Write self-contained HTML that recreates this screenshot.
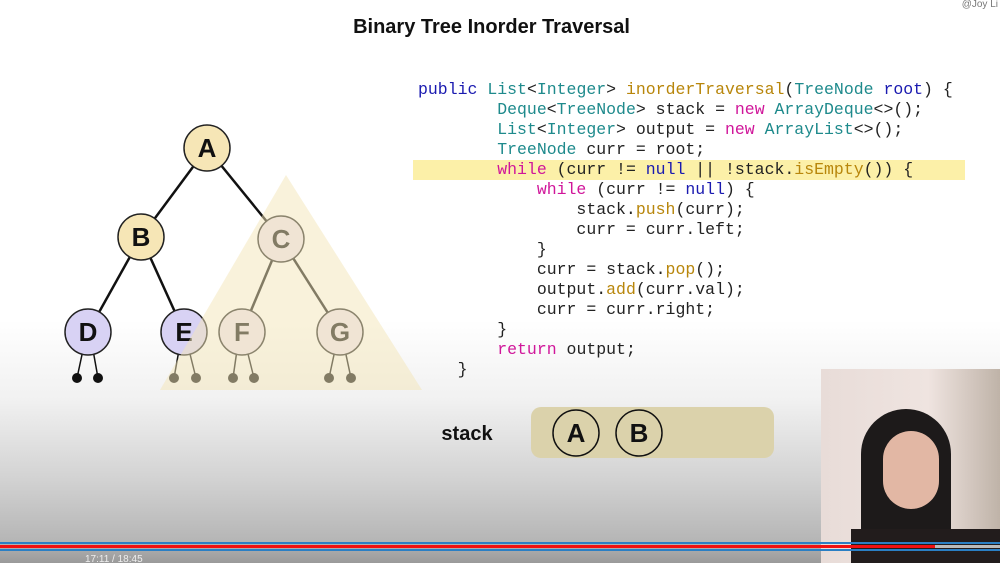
<!DOCTYPE html>
<html><head><style>
body{margin:0;width:1000px;height:563px;overflow:hidden;position:relative;font-family:"Liberation Sans",sans-serif;
background:linear-gradient(180deg,#fff 0px,#fff 320px,#f1f1f1 400px,#d2d2d2 480px,#b6b6b6 540px,#9a9a9a 563px);}
.code{position:absolute;left:418px;top:80px;font-family:"Liberation Mono",monospace;font-size:16.5px;line-height:20px;white-space:pre;color:#222}
.k{color:#1a1ab0}.t{color:#1e8a8c}.m{color:#b8860b}.p{color:#d0169a}
</style></head><body>
<div style="position:absolute;left:0;width:983px;top:16px;text-align:center;font-weight:bold;font-size:20px;color:#111">Binary Tree Inorder Traversal</div>
<div style="position:absolute;right:2px;top:-1px;font-size:10px;color:#777">@Joy Li</div>
<div style="position:absolute;left:413px;top:160px;width:552px;height:20px;background:#fcf0a8"></div>
<div class="code"><span class="k">public</span> <span class="t">List</span>&lt;<span class="t">Integer</span>&gt; <span class="m">inorderTraversal</span>(<span class="t">TreeNode</span> <span class="k">root</span>) {
        <span class="t">Deque</span>&lt;<span class="t">TreeNode</span>&gt; stack = <span class="p">new</span> <span class="t">ArrayDeque</span>&lt;&gt;();
        <span class="t">List</span>&lt;<span class="t">Integer</span>&gt; output = <span class="p">new</span> <span class="t">ArrayList</span>&lt;&gt;();
        <span class="t">TreeNode</span> curr = root;
        <span class="p">while</span> (curr != <span class="k">null</span> || !stack.<span class="m">isEmpty</span>()) {
            <span class="p">while</span> (curr != <span class="k">null</span>) {
                stack.<span class="m">push</span>(curr);
                curr = curr.left;
            }
            curr = stack.<span class="m">pop</span>();
            output.<span class="m">add</span>(curr.val);
            curr = curr.right;
        }
        <span class="p">return</span> output;
    }</div>
<svg width="1000" height="563" style="position:absolute;left:0;top:0">
<g stroke="#111" stroke-width="2.5">
<line x1="207" y1="148" x2="141" y2="237"/><line x1="207" y1="148" x2="281" y2="239"/>
<line x1="141" y1="237" x2="88" y2="332"/><line x1="141" y1="237" x2="184" y2="332"/>
<line x1="281" y1="239" x2="242" y2="332"/><line x1="281" y1="239" x2="340" y2="332"/>
</g>
<g stroke="#111" stroke-width="1.5">
<line x1="83" y1="350" x2="77" y2="378"/><line x1="93" y1="350" x2="98" y2="378"/>
<line x1="179" y1="350" x2="174" y2="378"/><line x1="189" y1="350" x2="196" y2="378"/>
<line x1="237" y1="350" x2="233" y2="378"/><line x1="247" y1="350" x2="254" y2="378"/>
<line x1="335" y1="350" x2="329" y2="378"/><line x1="345" y1="350" x2="351" y2="378"/>
</g>
<g fill="#111">
<circle cx="77" cy="378" r="5"/><circle cx="98" cy="378" r="5"/><circle cx="174" cy="378" r="5"/><circle cx="196" cy="378" r="5"/>
<circle cx="233" cy="378" r="5"/><circle cx="254" cy="378" r="5"/><circle cx="329" cy="378" r="5"/><circle cx="351" cy="378" r="5"/>
</g>
<g stroke="#222" stroke-width="1.5" font-family="Liberation Sans" font-weight="bold" font-size="26" text-anchor="middle">
<circle cx="207" cy="148" r="23" fill="#f6e6b6"/><circle cx="141" cy="237" r="23" fill="#f6e6b6"/>
<circle cx="281" cy="239" r="23" fill="#ede3f0"/><circle cx="88" cy="332" r="23" fill="#d8d2f4"/>
<circle cx="184" cy="332" r="23" fill="#d8d2f4"/><circle cx="242" cy="332" r="23" fill="#ede3f0"/><circle cx="340" cy="332" r="23" fill="#ede3f0"/>
<g stroke="none" fill="#111">
<text x="207" y="157">A</text><text x="141" y="246">B</text><text x="281" y="248">C</text><text x="88" y="341">D</text>
<text x="184" y="341">E</text><text x="242" y="341">F</text><text x="340" y="341">G</text></g>
</g>
<polygon points="286,175 160,390 422,390" fill="#f3e6b8" opacity="0.5"/>
<rect x="531" y="407" width="243" height="51" rx="10" fill="#dbd2ab"/>
<circle cx="576" cy="433" r="23" fill="none" stroke="#111" stroke-width="1.5"/>
<circle cx="639" cy="433" r="23" fill="none" stroke="#111" stroke-width="1.5"/>
<g font-family="Liberation Sans" font-weight="bold" text-anchor="middle" fill="#111">
<text x="576" y="442" font-size="26">A</text><text x="639" y="442" font-size="26">B</text>
<text x="467" y="440" font-size="20">stack</text></g>
</svg>
<div style="position:absolute;left:821px;top:369px;width:179px;height:194px;background:linear-gradient(90deg,#e8dcd8 0,#efe4e0 60%,#bfb3a8 100%)">
<div style="position:absolute;left:40px;top:40px;width:90px;height:154px;border-radius:45px 45px 0 0;background:#1d1a1a"></div>
<div style="position:absolute;left:62px;top:62px;width:56px;height:78px;border-radius:28px;background:#e2b7a4"></div>
<div style="position:absolute;left:30px;top:160px;width:149px;height:34px;background:#221c1c"></div>
</div>
<div style="position:absolute;left:0;top:542px;width:1000px;height:2px;background:#2a7fc4"></div>
<div style="position:absolute;left:0;top:545px;width:935px;height:3px;background:#f01010"></div>
<div style="position:absolute;left:935px;top:545px;width:65px;height:3px;background:#bbb"></div>
<div style="position:absolute;left:0;top:549px;width:1000px;height:2px;background:#2a7fc4"></div>
<div style="position:absolute;left:85px;top:554px;font-size:10px;color:#eee">17:11 / 18:45</div>
</body></html>
